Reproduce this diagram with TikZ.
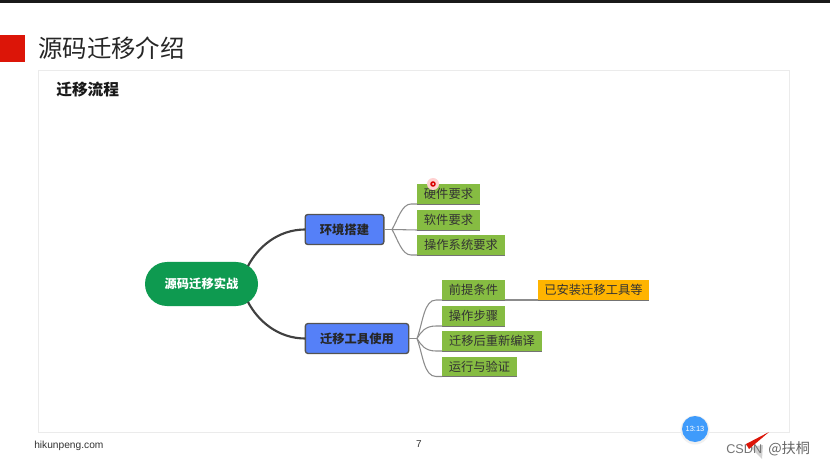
\documentclass[tikz,border=0pt]{standalone}
\usepackage{fontspec}
\setmainfont{Noto Sans CJK SC}
\newfontfamily\latinfont{Liberation Sans}
\definecolor{rootgreen}{HTML}{0E9A50}
\definecolor{topicblue}{HTML}{5580F8}
\definecolor{leafgreen}{HTML}{86BC42}
\definecolor{noteorange}{HTML}{FFB400}
\definecolor{darkline}{HTML}{404040}
\definecolor{thinline}{HTML}{8C8C8C}
\definecolor{brandred}{HTML}{DC1508}
\definecolor{panelline}{HTML}{EBEBEB}
\definecolor{timerblue}{HTML}{3F9BFB}
\tikzset{
  x=0.75pt,y=-0.75pt,
  nodetext/.style={font=\fontsize{9.2}{11}\selectfont,text=black!80,inner sep=0pt,outer sep=0pt},
  rootnode/.style={nodetext,fill=rootgreen,text=white,rounded corners=16.5pt,minimum width=84.75pt,minimum height=33pt},
  topic/.style={nodetext,fill=topicblue,draw=darkline!90,line width=1pt,rounded corners=2pt,minimum height=22.5pt,text=black!85},
  leaf/.style={nodetext,fill=leafgreen,minimum height=15pt},
  note/.style={nodetext,fill=noteorange,minimum height=15pt},
  trunk/.style={draw=darkline,line width=1.6pt},
  twig/.style={draw=thinline,line width=0.8pt},
  under/.style={draw=black!55,line width=0.7pt},
}
\begin{document}
\begin{tikzpicture}
\useasboundingbox (0,0) rectangle (830,466);
\fill[white] (0,0) rectangle (830,466);
\fill[black!90] (0,0) rectangle (830,3);
\fill[brandred] (0,35) rectangle (25,62);
\draw[panelline,line width=0.7pt] (38,70) rectangle (789,432);
\node[anchor=west,inner sep=0pt,font=\fontsize{18.3}{22}\selectfont,text=black!85] (title) at (38,48) {源码迁移介绍};
\node[anchor=west,inner sep=0pt,font=\fontsize{11.8}{14}\selectfont\bfseries,text=black!90] (sub) at (56,90) {迁移流程};
\node[anchor=west,inner sep=0pt,font=\latinfont\fontsize{7.65}{10}\selectfont,text=black!80] (site) at (34,446) {hikunpeng.com};
\node[inner sep=0pt,font=\latinfont\fontsize{7.5}{9}\selectfont,text=black!80] (page) at (419,444) {7};

% nodes
\node[rootnode] (root) at (201.5,284) {\bfseries 源码迁移实战};
\node[topic,minimum width=59pt] (env) at (344.5,229.5) {\bfseries 环境搭建};
\node[topic,minimum width=77.5pt] (tool) at (357,338.5) {\bfseries 迁移工具使用};
\node[leaf,minimum width=47.25pt] (hw) at (448.5,194) {硬件要求};
\node[leaf,minimum width=47.25pt] (sw) at (448.5,220) {软件要求};
\node[leaf,minimum width=66pt] (os) at (461,245) {操作系统要求};
\node[leaf,minimum width=47.25pt] (pre) at (473.5,290) {前提条件};
\node[leaf,minimum width=47.25pt] (steps) at (473.5,316) {操作步骤};
\node[leaf,minimum width=75pt] (rebuild) at (492,341) {迁移后重新编译};
\node[leaf,minimum width=56.25pt] (run) at (479.5,366.5) {运行与验证};
\node[note,minimum width=83.25pt] (inst) at (593.5,290) {已安装迁移工具等};

% trunk connectors
\coordinate (rootup) at (248,266);
\coordinate (rootdown) at (248,302);
\draw[trunk] (rootup) .. controls (258,247) and (278,229.5) .. (env.west);
\draw[trunk] (rootdown) .. controls (258,321) and (278,338.5) .. (tool.west);

% env branches
\coordinate (envfork) at (392,229.5);
\draw[twig] (env.east) -- (envfork);
\draw[twig] (envfork) .. controls (398,219) and (402,204) .. (411,204) -- (hw.south west);
\draw[twig] (envfork) -- (sw.south west);
\draw[twig] (envfork) .. controls (398,240) and (402,255) .. (411,255) -- (os.south west);
\foreach \n in {hw,sw,os,pre,steps,rebuild,run,inst}{\draw[under] (\n.south west) -- (\n.south east);}

% tool branches
\coordinate (toolfork) at (417,338.5);
\draw[twig] (tool.east) -- (toolfork);
\draw[twig] (toolfork) .. controls (423,322) and (424,300) .. (436,300) -- (pre.south west);
\draw[twig] (toolfork) .. controls (421,332) and (425,326) .. (436,326) -- (steps.south west);
\draw[twig] (toolfork) .. controls (421,345) and (425,351) .. (436,351) -- (rebuild.south west);
\draw[twig] (toolfork) .. controls (423,355) and (424,376.5) .. (436,376.5) -- (run.south west);
\draw[twig] (pre.south east) -- (inst.south west);

% pointer dot
\fill[red!18] (433,184) circle (6);
\fill[red!85!black] (433,184) circle (2.8);
\fill[white] (433,184) circle (1);

% timer badge
\fill[black!6] (695,430) circle (14.5);
\node[circle,fill=timerblue,minimum size=19.5pt,inner sep=0pt,text=white,font=\latinfont\fontsize{5.6}{6}\selectfont] (timer) at (695,429) {13:13};

% watermark
\fill[black!18] (750,447) -- (763,445) -- (762,459) -- cycle;
\node[anchor=west,inner sep=0pt,text=black!55,font=\latinfont\fontsize{9.5}{11}\selectfont] (mark) at (726,449) {CSDN};
\node[anchor=west,inner sep=0pt,text=black!60,font=\fontsize{10.6}{12}\selectfont] (author) at (768,449) {@扶桐};
\fill[brandred] (769,432) -- (746,444) -- (749,449) -- cycle;
\end{tikzpicture}
\end{document}
